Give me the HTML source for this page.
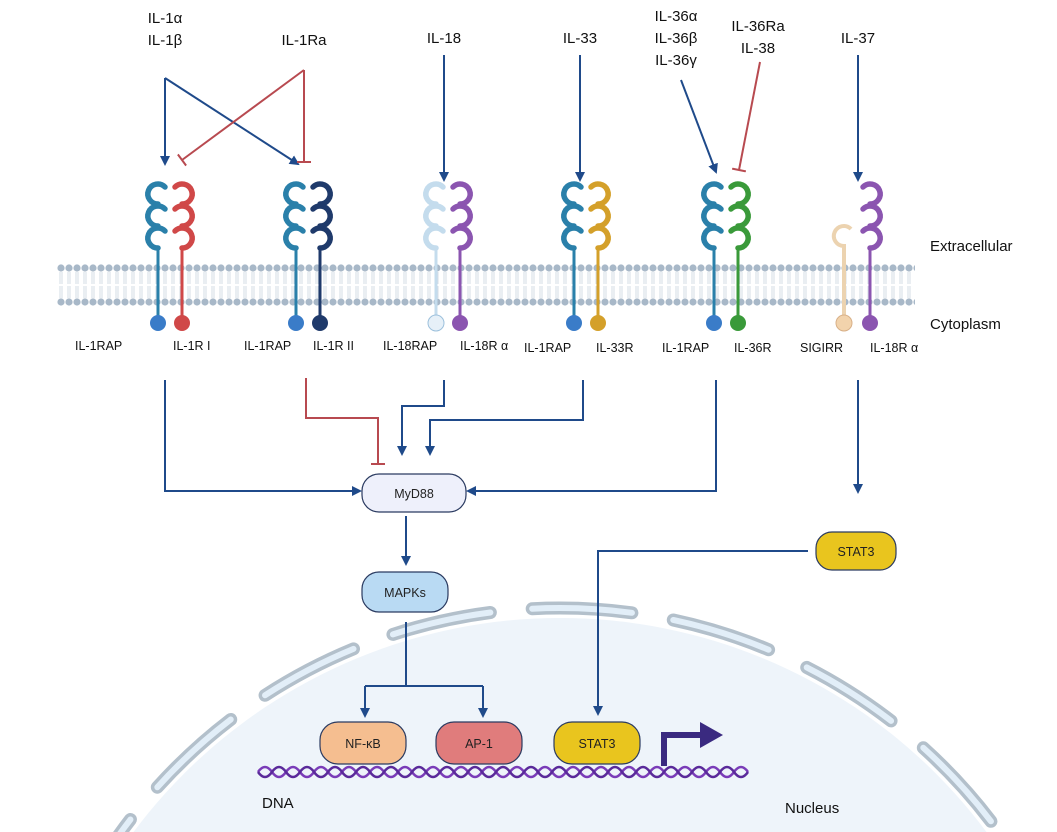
<!DOCTYPE html>
<html><head><meta charset="utf-8"><style>
html,body{margin:0;background:#fff;overflow:hidden;width:1057px;height:832px;}
svg{display:block;}
svg text{font-family:"Liberation Sans",sans-serif;}
</style></head><body>
<svg width="1057" height="832" viewBox="0 0 1057 832" xmlns="http://www.w3.org/2000/svg">
<defs>
<pattern id="mem" x="57" y="0" width="8" height="832" patternUnits="userSpaceOnUse">
<circle cx="4" cy="268" r="3.6" fill="#a8b8c8"/>
<circle cx="4" cy="302" r="3.6" fill="#a8b8c8"/>
<path d="M3,272 L3,284 M5,272 L5,284 M3,286 L3,298 M5,286 L5,298" stroke="#c9d5e0" stroke-width="0.8"/>
</pattern>
<g id="rc">
<path d="M7,3 A10,10 0 1 0 0,20 M7,25 A10,10 0 1 0 0,42 M7,47 A10,10 0 1 0 0,64" fill="none" stroke-width="5.5" stroke-linecap="round"/>
<path d="M0,64 L0,135" fill="none" stroke-width="3"/>
</g>
<marker id="ah" markerWidth="10" markerHeight="10" refX="8" refY="5" orient="auto" markerUnits="userSpaceOnUse"><path d="M0,0 L10,5 L0,10 z" fill="#1f4a8a"/></marker>
<marker id="bar" markerWidth="4" markerHeight="14" refX="2" refY="7" orient="auto" markerUnits="userSpaceOnUse"><path d="M2,0 L2,14" stroke="#b84a50" stroke-width="2"/></marker>
</defs>

<!-- nucleus -->
<circle cx="560" cy="1150" r="532" fill="#eef4fa"/>
<circle cx="560" cy="1150" r="542" fill="none" stroke="#b3c0cb" stroke-width="13" stroke-dasharray="100 42" stroke-linecap="round" stroke-dashoffset="30"/>
<circle cx="560" cy="1150" r="542" fill="none" stroke="#e2eef8" stroke-width="6" stroke-dasharray="100 42" stroke-linecap="round" stroke-dashoffset="30"/>

<!-- membrane -->
<rect x="57" y="263" width="858" height="44" fill="url(#mem)"/>

<!-- receptors -->
<g stroke="#2a80aa"><use href="#rc" transform="translate(158,184)"/></g><circle cx="158" cy="323" r="8" fill="#3a7cc8"/>
<g stroke="#d04848"><use href="#rc" transform="translate(182,184) scale(-1,1)"/></g><circle cx="182" cy="323" r="8" fill="#d04848"/>
<g stroke="#2a80aa"><use href="#rc" transform="translate(296,184)"/></g><circle cx="296" cy="323" r="8" fill="#3a7cc8"/>
<g stroke="#1f3a6b"><use href="#rc" transform="translate(320,184) scale(-1,1)"/></g><circle cx="320" cy="323" r="8" fill="#1f3a6b"/>
<g stroke="#c4dced"><use href="#rc" transform="translate(436,184)"/></g><circle cx="436" cy="323" r="8" fill="#e6f0f8" stroke="#9cc0dc"/>
<g stroke="#8b55b0"><use href="#rc" transform="translate(460,184) scale(-1,1)"/></g><circle cx="460" cy="323" r="8" fill="#8b55b0"/>
<g stroke="#2a80aa"><use href="#rc" transform="translate(574,184)"/></g><circle cx="574" cy="323" r="8" fill="#3a7cc8"/>
<g stroke="#d4a02a"><use href="#rc" transform="translate(598,184) scale(-1,1)"/></g><circle cx="598" cy="323" r="8" fill="#d4a02a"/>
<g stroke="#2a80aa"><use href="#rc" transform="translate(714,184)"/></g><circle cx="714" cy="323" r="8" fill="#3a7cc8"/>
<g stroke="#3a9a3a"><use href="#rc" transform="translate(738,184) scale(-1,1)"/></g><circle cx="738" cy="323" r="8" fill="#3a9a3a"/>
<path d="M851,229 A10,10 0 1 0 844,246 L844,318" fill="none" stroke="#ecd3b0" stroke-width="4"/><circle cx="844" cy="323" r="8" fill="#f2d3ac" stroke="#d8b088"/>
<g stroke="#8b55b0"><use href="#rc" transform="translate(870,184) scale(-1,1)"/></g><circle cx="870" cy="323" r="8" fill="#8b55b0"/>

<!-- labels -->
<g font-size="12.5" fill="#111">
<text x="75" y="350">IL-1RAP</text><text x="173" y="350">IL-1R I</text>
<text x="244" y="350">IL-1RAP</text><text x="313" y="350">IL-1R II</text>
<text x="383" y="350">IL-18RAP</text><text x="460" y="350">IL-18R α</text>
<text x="524" y="352">IL-1RAP</text><text x="596" y="352">IL-33R</text>
<text x="662" y="352">IL-1RAP</text><text x="734" y="352">IL-36R</text>
<text x="800" y="352">SIGIRR</text><text x="870" y="352">IL-18R α</text>
</g>
<g font-size="15" fill="#111" text-anchor="middle">
<text x="165" y="23">IL-1α</text><text x="165" y="45">IL-1β</text>
<text x="304" y="45">IL-1Ra</text>
<text x="444" y="43">IL-18</text><text x="580" y="43">IL-33</text>
<text x="676" y="21">IL-36α</text><text x="676" y="43">IL-36β</text><text x="676" y="65">IL-36γ</text>
<text x="758" y="31">IL-36Ra</text><text x="758" y="53">IL-38</text>
<text x="858" y="43">IL-37</text>
</g>
<g font-size="15" fill="#111">
<text x="930" y="251">Extracellular</text><text x="930" y="329">Cytoplasm</text>
<text x="262" y="808">DNA</text><text x="785" y="813">Nucleus</text>
</g>

<!-- top arrows -->
<g fill="none" stroke="#1f4a8a" stroke-width="2">
<path d="M165,78 L165,164" marker-end="url(#ah)"/>
<path d="M165,78 L298,164" marker-end="url(#ah)"/>
<path d="M444,55 L444,180" marker-end="url(#ah)"/>
<path d="M580,55 L580,180" marker-end="url(#ah)"/>
<path d="M681,80 L716,172" marker-end="url(#ah)"/>
<path d="M858,55 L858,180" marker-end="url(#ah)"/>
</g>
<g fill="none" stroke="#b84a50" stroke-width="2">
<path d="M304,70 L304,162" marker-end="url(#bar)"/>
<path d="M304,70 L182,160" marker-end="url(#bar)"/>
<path d="M760,62 L739,170" marker-end="url(#bar)"/>
<path d="M306,378 L306,418 L378,418 L378,464" marker-end="url(#bar)"/>
</g>
<!-- lower arrows -->
<g fill="none" stroke="#1f4a8a" stroke-width="2">
<path d="M165,380 L165,491 L360,491" marker-end="url(#ah)"/>
<path d="M444,380 L444,406 L402,406 L402,454" marker-end="url(#ah)"/>
<path d="M583,380 L583,420 L430,420 L430,454" marker-end="url(#ah)"/>
<path d="M716,380 L716,491 L468,491" marker-end="url(#ah)"/>
<path d="M858,380 L858,492" marker-end="url(#ah)"/>
<path d="M406,516 L406,564" marker-end="url(#ah)"/>
<path d="M406,622 L406,686 M365,686 L483,686"/>
<path d="M365,686 L365,716" marker-end="url(#ah)"/>
<path d="M483,686 L483,716" marker-end="url(#ah)"/>
<path d="M808,551 L598,551 L598,714" marker-end="url(#ah)"/>
</g>

<!-- boxes -->
<g stroke="#2a3a60" stroke-width="1.2" font-size="12.5" text-anchor="middle">
<rect x="362" y="474" width="104" height="38" rx="17" fill="#eef0fb"/><text x="414" y="498" fill="#222" stroke="none">MyD88</text>
<rect x="362" y="572" width="86" height="40" rx="17" fill="#b9daf3"/><text x="405" y="597" fill="#222" stroke="none">MAPKs</text>
<rect x="816" y="532" width="80" height="38" rx="16" fill="#e9c51e"/><text x="856" y="556" fill="#222" stroke="none">STAT3</text>
<rect x="320" y="722" width="86" height="42" rx="18" fill="#f5be90"/><text x="363" y="748" fill="#222" stroke="none">NF-κB</text>
<rect x="436" y="722" width="86" height="42" rx="18" fill="#e07c7c"/><text x="479" y="748" fill="#222" stroke="none">AP-1</text>
<rect x="554" y="722" width="86" height="42" rx="18" fill="#e9c51e"/><text x="597" y="748" fill="#222" stroke="none">STAT3</text>
</g>

<!-- DNA -->
<path d="M258,772 q7,-10 14,0 t14,0 t14,0 t14,0 t14,0 t14,0 t14,0 t14,0 t14,0 t14,0 t14,0 t14,0 t14,0 t14,0 t14,0 t14,0 t14,0 t14,0 t14,0 t14,0 t14,0 t14,0 t14,0 t14,0 t14,0 t14,0 t14,0 t14,0 t14,0 t14,0 t14,0 t14,0 t14,0 t14,0 t14,0" fill="none" stroke="#7a3cb8" stroke-width="2.5"/>
<path d="M258,772 q7,10 14,0 t14,0 t14,0 t14,0 t14,0 t14,0 t14,0 t14,0 t14,0 t14,0 t14,0 t14,0 t14,0 t14,0 t14,0 t14,0 t14,0 t14,0 t14,0 t14,0 t14,0 t14,0 t14,0 t14,0 t14,0 t14,0 t14,0 t14,0 t14,0 t14,0 t14,0 t14,0 t14,0 t14,0 t14,0" fill="none" stroke="#5a2a9a" stroke-width="2.5"/>
<path d="M664,766 L664,735 L702,735" fill="none" stroke="#3a2a80" stroke-width="6"/>
<path d="M700,722 L723,735 L700,748 z" fill="#3a2a80"/>
</svg>
</body></html>
